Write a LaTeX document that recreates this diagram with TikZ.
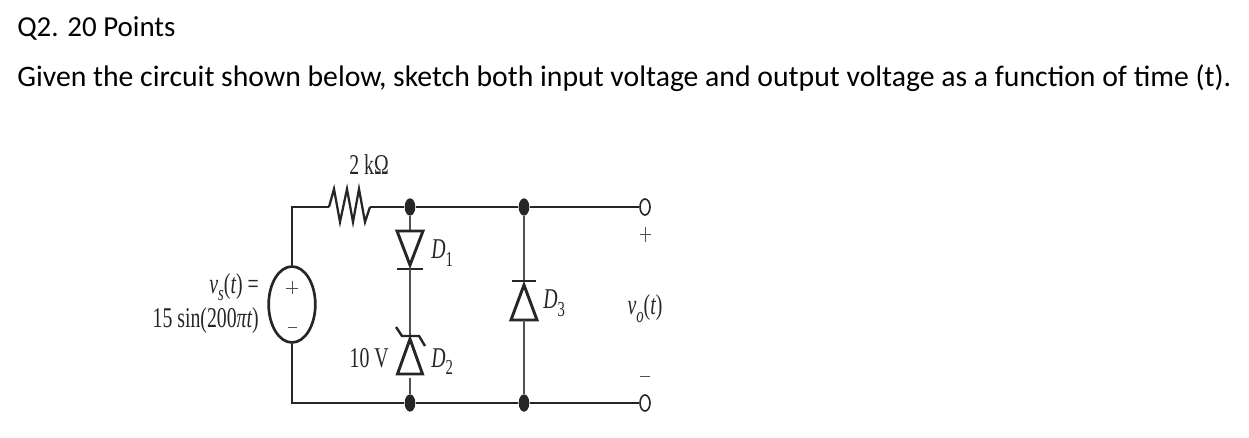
\documentclass[tikz,border=0pt]{standalone}
\usepackage{fontspec}
\setmainfont{Carlito}
\newfontfamily\cfont{Liberation Serif}
\usetikzlibrary{shapes.geometric}
\definecolor{ink}{HTML}{262626}
\newcommand{\cl}[1]{\scalebox{0.69}[1]{\cfont\fontsize{21.5}{25}\selectfont #1}}
\newcommand{\ci}[1]{{\itshape #1}}
\newcommand{\sbs}[1]{\raisebox{-5.5pt}{\fontsize{16}{16}\selectfont #1}}
\tikzset{
  x=0.75pt,y=-0.75pt,
  wire/.style={draw=ink,line width=1.2pt},
  thin wire/.style={draw=ink!80,line width=1pt},
  diode/.style={draw=ink,line width=2.2pt,miter limit=4},
  dot/.style={ellipse,fill=ink,draw=none,minimum width=8pt,minimum height=13pt,inner sep=0pt},
  term/.style={ellipse,fill=white,draw=ink,line width=1.2pt,minimum width=7.5pt,minimum height=12pt,inner sep=0pt},
  source/.style={ellipse,draw=ink,line width=2pt,minimum width=35pt,minimum height=57pt,inner sep=0pt},
  body/.style={inner sep=0pt,anchor=base west,text=black,font=\fontsize{22.3}{26}\selectfont},
  lab/.style={inner sep=0pt,text=ink},
  sign/.style={draw=ink!80,line width=0.65pt},
}
\begin{document}
\begin{tikzpicture}
\useasboundingbox (0,0) rectangle (1249,438);
\node[body] (title) at (17,37) {\fontsize{21.7}{26}\selectfont Q2. 20 Points};
\node[body] (question) at (17,87) {Given the circuit shown below, sketch both input voltage and output voltage as a function of time (t).};

% junctions
\coordinate (tl) at (292,207);
\coordinate (bl) at (292,403);
\node[source] (src) at (292,304.5) {};
\node[dot] (j1) at (410,207) {};
\node[dot] (j2) at (524,207) {};
\node[dot] (j3) at (410,403) {};
\node[dot] (j4) at (524,403) {};
\node[term] (t1) at (645,207) {};
\node[term] (t2) at (645,403) {};
\coordinate (ra) at (329,207);
\coordinate (rb) at (370,207);

% wires
\draw[wire] (src.north) -- (tl) -- (ra);
\draw[wire,line width=1.7pt,line join=miter,miter limit=6] (ra) -- (334,189) -- (340,222) -- (347,189) -- (353,222) -- (359,189) -- (365,222) -- (rb);
\draw[wire] (rb) -- (j1) -- (j2) -- (t1);
\draw[wire] (src.south) -- (bl) -- (j3) -- (j4) -- (t2);

% D1
\coordinate (d1a) at (410,231);
\coordinate (d1k) at (410,269);
\coordinate (d2k) at (410,336);
\coordinate (d3k) at (524,281);
\coordinate (d3a) at (524,320);
\draw[thin wire] (j1) -- (d1a);
\draw[diode] (397,231) -- (423,231) -- (410,265) -- cycle;
\draw[diode] (397,269) -- (423,269);
\draw[thin wire] (d1k) -- (d2k);
% D2
\draw[diode] (397.5,374) -- (422.5,374) -- (410,339) -- cycle;
\draw[diode,line width=1.8pt] (396,327) -- (402,336) -- (419,336) -- (425,346);
\draw[thin wire] (410,378) -- (j3);
% D3
\draw[thin wire] (j2) -- (d3k);
\draw[diode] (511,320) -- (537,320) -- (524,285) -- cycle;
\draw[diode] (512,281) -- (536,281);
\draw[thin wire] (d3a) -- (j4);

% polarity signs
\draw[sign] (286,288) -- (298,288) (292,281.5) -- (292,294.5);
\draw[sign] (287.5,327) -- (296.5,327);
\draw[sign] (639.5,234.5) -- (650.5,234.5) (645,227) -- (645,242);
\draw[sign] (640,376) -- (650,376);

% labels
\node[lab,anchor=base] (rl) at (369,175) {\cl{2 kΩ}};
\node[lab,anchor=base east] (vs1) at (259,293) {\cl{\ci{v\sbs{s}}(\ci{t}) =}};
\node[lab,anchor=base east] (vs2) at (259,327) {\cl{15 sin(200\ci{πt})}};
\node[lab,anchor=base west] (d1l) at (431,259) {\cl{\ci{D}\sbs{1}}};
\node[lab,anchor=base west] (d2l) at (431,367) {\cl{\ci{D}\sbs{2}}};
\node[lab,anchor=base west] (d3l) at (543,309) {\cl{\ci{D}\sbs{3}}};
\node[lab,anchor=base east] (vz) at (389,367) {\cl{10 V}};
\node[lab,anchor=base] (vo) at (645,315) {\cl{\ci{v\sbs{o}}(\ci{t})}};
\end{tikzpicture}
\end{document}
